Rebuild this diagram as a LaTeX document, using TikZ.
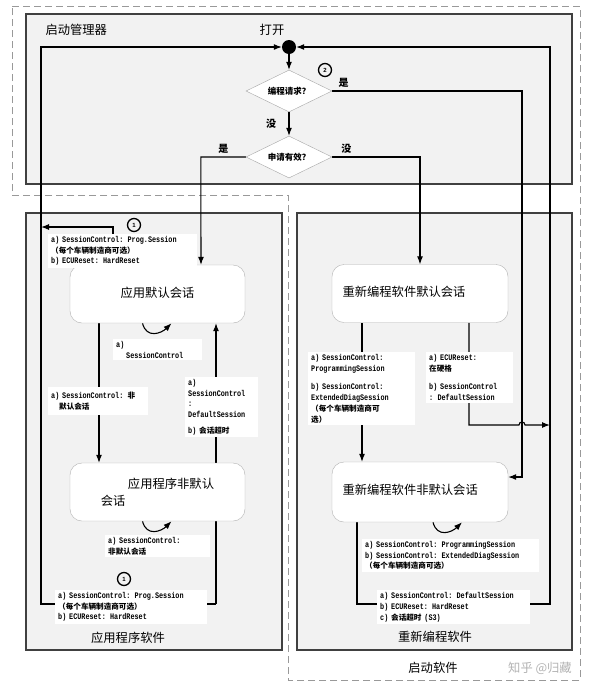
\documentclass[tikz,border=0pt]{standalone}
\usepackage{fontspec}
\setmainfont{Liberation Sans}
\newfontfamily\cjk{Noto Sans CJK SC}
\newfontfamily\labfont[FakeStretch=0.8]{Liberation Mono}
\usetikzlibrary{arrows.meta,shapes.geometric,positioning}

\newcommand\zh[1]{{\cjk\fontsize{7.6}{10.8}\selectfont#1}}

\pgfdeclarelayer{back}
\pgfdeclarelayer{mid}
\pgfsetlayers{back,mid,main}

\tikzset{
  panel/.style    = {draw=black!75, fill=black!5, line width=1.2pt},
  outline/.style  = {draw=black!40, line width=1pt, dash pattern=on 7pt off 4pt},
  arr/.style      = {-{Latex[length=8pt,width=6pt]}, line width=1.1pt},
  state/.style    = {shape=rectangle, rounded corners=12pt, draw=black!30, fill=white,
                     minimum width=175pt, minimum height=58pt,
                     font=\cjk\fontsize{12.3}{17}\selectfont},
  decision/.style = {shape=diamond, aspect=2, draw=black!35, fill=white,
                     minimum width=86pt, minimum height=42pt, inner sep=0pt,
                     font=\cjk\bfseries\fontsize{8.5}{10}\selectfont},
  title/.style    = {font=\cjk\fontsize{12.3}{14}\selectfont},
  yesno/.style    = {font=\cjk\bfseries\fontsize{10}{12}\selectfont},
  num/.style      = {circle, draw, line width=1.3pt, minimum size=13pt, inner sep=0pt,
                     font=\bfseries\fontsize{6}{6}\selectfont},
  note/.style     = {fill=white, anchor=north west, align=left,
                     inner xsep=3pt, inner ysep=2pt,
                     font=\labfont\bfseries\fontsize{8.5}{10.8}\selectfont}
}

\begin{document}
\begin{tikzpicture}[x=1pt, y=-1pt]
\useasboundingbox (0,0) rectangle (600,694);

% frames
\begin{pgfonlayer}{back}
\draw[outline] (12,6) -- (580,6) -- (580,680) -- (288,680) -- (288,195) -- (12,195) -- cycle;
\draw[panel] (26,14) rectangle (572,184);
\draw[panel] (26,213) rectangle (282,650);
\draw[panel] (297,213) rectangle (572,650);
\end{pgfonlayer}

\node[title, anchor=west] (mgr) at (42,30) {启动管理器};
\node[title] (open) at (272,30) {打开};
\node[title] (appsw) at (128,638) {应用程序软件};
\node[title] (reprog) at (435,637) {重新编程软件};
\node[title] (boot) at (433,668) {启动软件};
\node[title, text=black!30] (mark) at (540,668) {知乎 @归藏};

% states
\node[circle, fill, minimum size=14pt, inner sep=0pt] (init) at (289,47) {};
\node[decision] (req) at (289,91) {编程请求？};
\node[decision] (valid) at (289,157) {申请有效？};
\node[state] (ads) at (157.5,294) {\raisebox{3pt}{应用默认会话}};
\node[state, align=left] (ands) at (157.5,492) {\hspace*{2.2em}应用程序非默认\\会话};
\node[state, minimum width=176pt, text width=155pt, align=left] (rds) at (420,293.5)
  {\raisebox{4pt}{重新编程软件默认会话}};
\node[state, minimum width=176pt, minimum height=60pt, text width=155pt, align=left] (rnds) at (420,492)
  {\raisebox{5pt}{重新编程软件非默认会话}};

\node[num] (n2) at (325,70) {2};
\node[num] (n1a) at (134,225) {1};
\node[num] (n1b) at (124,579) {1};

% transition notes
\node[note, text width=143pt] (lprog) at (48,234)
  {a) SessionControl: Prog.Session\\\zh{（每个车辆制造商可选）}\\b) ECUReset: HardReset};
\node[note, text width=83pt] (lsc) at (113,339) {a)\\\hspace*{10pt}SessionControl};
\node[note, text width=94pt, inner ysep=5pt] (lnd) at (48,387)
  {a) SessionControl: \zh{非}\\\hspace*{8pt}\zh{默认会话}};
\node[note, text width=67pt] (lds) at (185,377)
  {a)\\SessionControl\\:\\DefaultSession\\[5pt]b) \zh{会话超时}};
\node[note, text width=99pt] (landsc) at (105,535) {a) SessionControl:\\\zh{非默认会话}};
\node[note, text width=146pt] (lprog2) at (55,590)
  {a) SessionControl: Prog.Session\\\zh{（每个车辆制造商可选）}\\b) ECUReset: HardReset};
\node[note, text width=101pt] (lrprog) at (308,352)
  {a) SessionControl:\\ProgrammingSession\\[8pt]b) SessionControl:\\ExtendedDiagSession\\\zh{（每个车辆制造商可}\\\zh{选）}};
\node[note, text width=81pt] (lreset) at (426,352)
  {a) ECUReset:\\\zh{在硬格}\\[8pt]b) SessionControl\\: DefaultSession};
\node[note, text width=171pt] (lrnsc) at (362,539)
  {a) SessionControl: ProgrammingSession\\b) SessionControl: ExtendedDiagSession\\\zh{（每个车辆制造商可选）}};
\node[note, text width=147pt] (lrdef) at (377,590)
  {a) SessionControl: DefaultSession\\b) ECUReset: HardReset\\c) \zh{会话超时} (S3)};

\coordinate (bl) at (41,604);
\coordinate (br) at (216,604);
\coordinate (rr) at (550,604);
\coordinate (tl) at (113,227);
\coordinate (hop) at (522,425);

% transitions
\begin{pgfonlayer}{mid}
\draw[arr] (init) -- (req);
\draw[arr] (req) -- node[yesno, left=9pt]{没} (valid);
\draw[arr] (valid.west) -- node[yesno, above]{是} ++(-45,0) -- ([xshift=43.5pt]ads.north);
\draw[arr] (valid.east) -| node[yesno, pos=.08, above]{没} (rds.north);
\draw[arr] (req.east) -| node[yesno, pos=.03, above]{是} (hop) |- ([yshift=15pt]rnds.east);
\draw[arr] ([xshift=-63pt]rnds.south) |- (rr) |- (init.east);
\draw[arr] ([xshift=49pt]rds.south) |- ([xshift=-3pt]hop)
  .. controls +(0,-4) and +(0,-4) .. ([xshift=3pt]hop) -- (hop -| rr);
\draw[arr] ([xshift=-58pt]rds.south) -- ([xshift=-58pt]rnds.north);
\draw[arr] ([xshift=-58.5pt]ads.south) -- ([xshift=-58.5pt]ands.north);
\draw[arr] (br) -- (br |- ads.south);
\draw[arr] (br) -- (bl) |- (init.west);
\draw[arr] (tl |- ads.north) -- (tl) -- (tl -| bl);
% self loops
\draw[arr] ([xshift=-15pt]ads.south) .. controls +(4,16) and +(-10,10) .. ([xshift=14pt]ads.south);
\draw[arr] ([xshift=-15pt]ands.south) .. controls +(4,16) and +(-10,10) .. ([xshift=14pt]ands.south);
\draw[arr] ([xshift=13pt]rnds.south) .. controls +(4,16) and +(-10,10) .. ([xshift=42pt]rnds.south);
\end{pgfonlayer}
\end{tikzpicture}
\end{document}
